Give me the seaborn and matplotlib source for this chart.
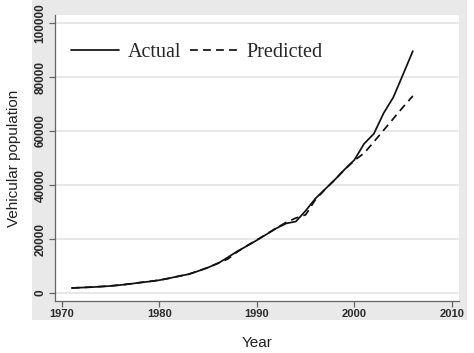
import matplotlib.pyplot as plt
import numpy as np
import pandas as pd
import seaborn as sns

# values
years = list(range(1971, 2007))
actual = [1900, 2050, 2200, 2400, 2650, 3000, 3400, 3900, 4300, 4800,
          5500, 6300, 7000, 8200, 9500, 11000, 13200, 15500, 17500, 19600,
          21800, 24000, 25800, 26500, 30500, 35000, 38500, 42000, 45800, 49300,
          55300, 59000, 66600, 72500, 81000, 89600]
predicted = [1900, 2050, 2250, 2450, 2700, 3000, 3450, 3900, 4350, 4800,
             5500, 6250, 7000, 8200, 9500, 11100, 12600, 15300, 17600, 19700,
             21900, 24100, 26200, 27800, 29000, 34600, 38400, 42000, 45700, 49100,
             51800, 56000, 60300, 64600, 68900, 73000]
series_names = ['Actual', 'Predicted']
x_ticks = [1970, 1980, 1990, 2000, 2010]
y_ticks = [0, 20000, 40000, 60000, 80000, 100000]

df = pd.DataFrame({
    'Year': years * 2,
    'value': actual + predicted,
    'series': [series_names[0]] * len(years) + [series_names[1]] * len(years),
})

sns.set_style('white')
plt.rcParams['font.family'] = ['Liberation Sans', 'DejaVu Sans']

fig = plt.figure(figsize=(4.74, 3.53), dpi=100)
# grey outer panel like the Stata graph region
bg = fig.add_axes([0.0675, 0.093, 0.918, 0.907], zorder=-1)
bg.set_facecolor('#e9e9e9')
bg.set_xticks([])
bg.set_yticks([])
for s in bg.spines.values():
    s.set_visible(False)

ax = fig.add_axes([0.116, 0.147, 0.852, 0.8105])
ax.set_facecolor('white')

sns.lineplot(data=df, x='Year', y='value', hue='series', style='series',
             palette={'Actual': '#111111', 'Predicted': '#111111'},
             dashes={'Actual': '', 'Predicted': (4.5, 3)},
             linewidth=1.25, ax=ax)

ax.set_xlim(1969.28, 2010.72)
ax.set_ylim(-2960, 102960)
ax.set_xticks(x_ticks)
ax.set_yticks(y_ticks)
ax.yaxis.grid(True, color='#e4e4e4', linewidth=1.2)
ax.set_axisbelow(True)

for s in ['top', 'right']:
    ax.spines[s].set_visible(False)
for s in ['left', 'bottom']:
    ax.spines[s].set_color('#666666')
    ax.spines[s].set_linewidth(0.9)

ax.tick_params(axis='both', which='major', direction='out', length=4,
               width=0.9, color='#666666', labelcolor='#2a2a2a',
               bottom=True, left=True)
ax.tick_params(axis='x', labelsize=8, pad=2)
ax.tick_params(axis='y', labelsize=8.5, pad=2)
for lab in ax.get_xticklabels():
    lab.set_fontweight('bold')
for lab in ax.get_yticklabels():
    lab.set_rotation(90)
    lab.set_va('center')
    lab.set_fontweight('bold')

ax.set_xlabel('Year', fontsize=11, color='#222222', labelpad=12)
ax.set_ylabel('Vehicular population', fontsize=11, color='#222222', labelpad=10)

handles, labels = ax.get_legend_handles_labels()
leg = ax.legend(handles, labels, loc='upper left', ncol=2, frameon=False,
                bbox_to_anchor=(0.02, 0.932), handlelength=2.4,
                handletextpad=0.4, columnspacing=0.45, borderaxespad=0,
                prop={'family': ['Liberation Serif'], 'size': 14.5})

fig.savefig('out.png', dpi=100)
